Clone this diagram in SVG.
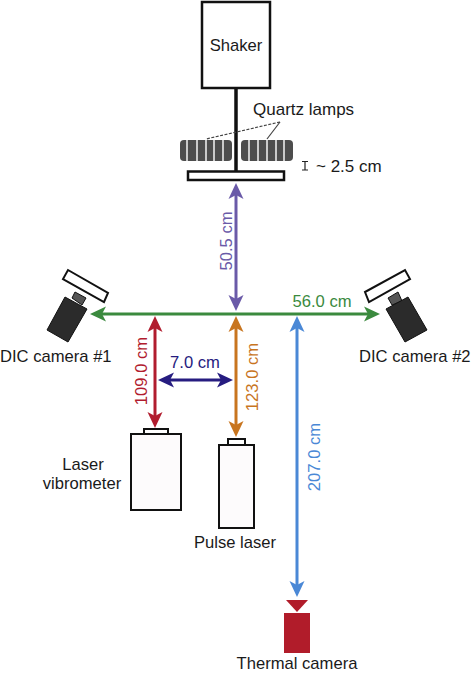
<svg xmlns="http://www.w3.org/2000/svg" width="474" height="673" viewBox="0 0 474 673">
<defs>
<style>
text{font-family:"Liberation Sans",Arial,sans-serif;font-size:16.6px;fill:#1a1a1a}
.m{text-anchor:middle}
.box{fill:#fff;stroke:#111;stroke-width:2.5}
.thin{fill:#fff;stroke:#111;stroke-width:2}
.dark{fill:#2b2b2b;stroke:#111;stroke-width:1}
.lamp{fill:#4d4d4d}
.st{stroke:#fff;stroke-width:1.4}
.c{fill:none;stroke-width:3}
</style>
<marker id="aP" markerUnits="userSpaceOnUse" markerWidth="18" markerHeight="18" refX="5" refY="9" orient="auto-start-reverse"><path d="M0,1.5L16,9L0,16.500L4,9Z" fill="#6a5aa8"/></marker>
<marker id="aG" markerUnits="userSpaceOnUse" markerWidth="18" markerHeight="18" refX="5" refY="9" orient="auto-start-reverse"><path d="M0,1.5L16,9L0,16.500L4,9Z" fill="#3b8a3e"/></marker>
<marker id="aR" markerUnits="userSpaceOnUse" markerWidth="18" markerHeight="18" refX="5" refY="9" orient="auto-start-reverse"><path d="M0,1.5L16,9L0,16.500L4,9Z" fill="#b11c2e"/></marker>
<marker id="aN" markerUnits="userSpaceOnUse" markerWidth="18" markerHeight="18" refX="5" refY="9" orient="auto-start-reverse"><path d="M0,1.5L16,9L0,16.500L4,9Z" fill="#261c80"/></marker>
<marker id="aO" markerUnits="userSpaceOnUse" markerWidth="18" markerHeight="18" refX="5" refY="9" orient="auto-start-reverse"><path d="M0,1.5L16,9L0,16.500L4,9Z" fill="#c8751f"/></marker>
<marker id="aB" markerUnits="userSpaceOnUse" markerWidth="18" markerHeight="18" refX="5" refY="9" orient="auto-start-reverse"><path d="M0,1.5L16,9L0,16.500L4,9Z" fill="#4a88d6"/></marker>
</defs>
<rect width="474" height="673" fill="#fff"/>
<g id="shaker">
<rect x="202" y="2" width="68" height="86" class="box"/>
<text x="236" y="51" class="m">Shaker</text>
<line x1="236" y1="88" x2="236" y2="172" stroke="#111" stroke-width="3.5"/>
<rect x="188" y="171.500" width="96" height="8.500" class="box"/>
</g>
<g id="quartz-lamps">
<rect x="180" y="140" width="52" height="21" rx="4" class="lamp"/>
<rect x="241" y="140" width="52" height="21" rx="4" class="lamp"/>
<path class="st" d="M187,140V161M197,140V161M206,140V161M214,140V161M223,140V161M249,140V161M258,140V161M267,140V161M276,140V161M284,140V161"/>
<text x="253" y="115" style="font-size:17px">Quartz lamps</text>
<path d="M280,122L206,139" fill="none" stroke="#444" stroke-width="1.200" stroke-dasharray="3 1.500"/>
<path d="M280,122L267,139" fill="none" stroke="#444" stroke-width="1.200"/>
</g>
<g id="scale">
<path d="M302,161.500H308M305,161.500V170M302,170H308" fill="none" stroke="#222" stroke-width="1.200"/>
<text x="316" y="172" style="font-size:17px">~ 2.5 cm</text>
</g>
<g id="dic-camera-1">
<polygon points="68,270 108,293 104,302 63,279" class="thin"/>
<polygon points="75,292 86,298 82,305 72,298" fill="#555" stroke="#111"/>
<polygon points="65,297 87,309 68,342 47,330" class="dark"/>
<text x="0" y="362">DIC camera #1</text>
</g>
<g id="dic-camera-2">
<polygon points="365,292 405,270 410,279 369,302" class="thin"/>
<polygon points="388,298 398,292 402,301 392,305" fill="#555" stroke="#111"/>
<polygon points="386,309 408,297 427,330 405,342" class="dark"/>
<text x="359" y="362">DIC camera #2</text>
</g>
<g id="laser-vibrometer">
<rect x="144" y="429" width="24" height="5" class="thin"/>
<rect x="131" y="434" width="50" height="76" fill="#fdfbfc" stroke="#111" stroke-width="2"/>
<text x="83" y="470" class="m">Laser</text>
<text x="82" y="489" class="m">vibrometer</text>
</g>
<g id="pulse-laser">
<rect x="228" y="439" width="17" height="6" class="thin"/>
<rect x="219" y="445" width="35" height="83" fill="#fdfbfc" stroke="#111" stroke-width="2"/>
<text x="235" y="548" class="m">Pulse laser</text>
</g>
<g id="thermal-camera">
<polygon points="286,600 308,600 297,612" fill="#b11c2a"/>
<rect x="284" y="613" width="26" height="40" fill="#b11c2a"/>
<text x="297" y="669" class="m">Thermal camera</text>
</g>
<g id="connectors">
<line x1="236" y1="194" x2="236" y2="300" class="c" stroke="#6a5aa8" marker-start="url(#aP)" marker-end="url(#aP)"/>
<line x1="101" y1="314" x2="369" y2="314" class="c" stroke="#3b8a3e" marker-start="url(#aG)" marker-end="url(#aG)"/>
<line x1="155" y1="327" x2="155" y2="417" class="c" stroke="#b11c2e" marker-start="url(#aR)" marker-end="url(#aR)"/>
<line x1="169" y1="380" x2="222" y2="380" class="c" stroke="#261c80" marker-start="url(#aN)" marker-end="url(#aN)"/>
<line x1="236" y1="327" x2="236" y2="426" class="c" stroke="#c8751f" marker-start="url(#aO)" marker-end="url(#aO)"/>
<line x1="297" y1="327" x2="297" y2="586" class="c" stroke="#4a88d6" marker-start="url(#aB)" marker-end="url(#aB)"/>
</g>
<g id="labels">
<text transform="translate(232,241) rotate(-90)" class="m" style="fill:#6a5aa8">50.5 cm</text>
<text x="322" y="307" class="m" style="fill:#3b8a3e">56.0 cm</text>
<text transform="translate(147,371) rotate(-90)" class="m" style="fill:#b11c2e">109.0 cm</text>
<text x="195" y="368" class="m" style="fill:#261c80">7.0 cm</text>
<text transform="translate(258,377) rotate(-90)" class="m" style="fill:#c8751f">123.0 cm</text>
<text transform="translate(320,457) rotate(-90)" class="m" style="fill:#4a88d6">207.0 cm</text>
</g>
</svg>
